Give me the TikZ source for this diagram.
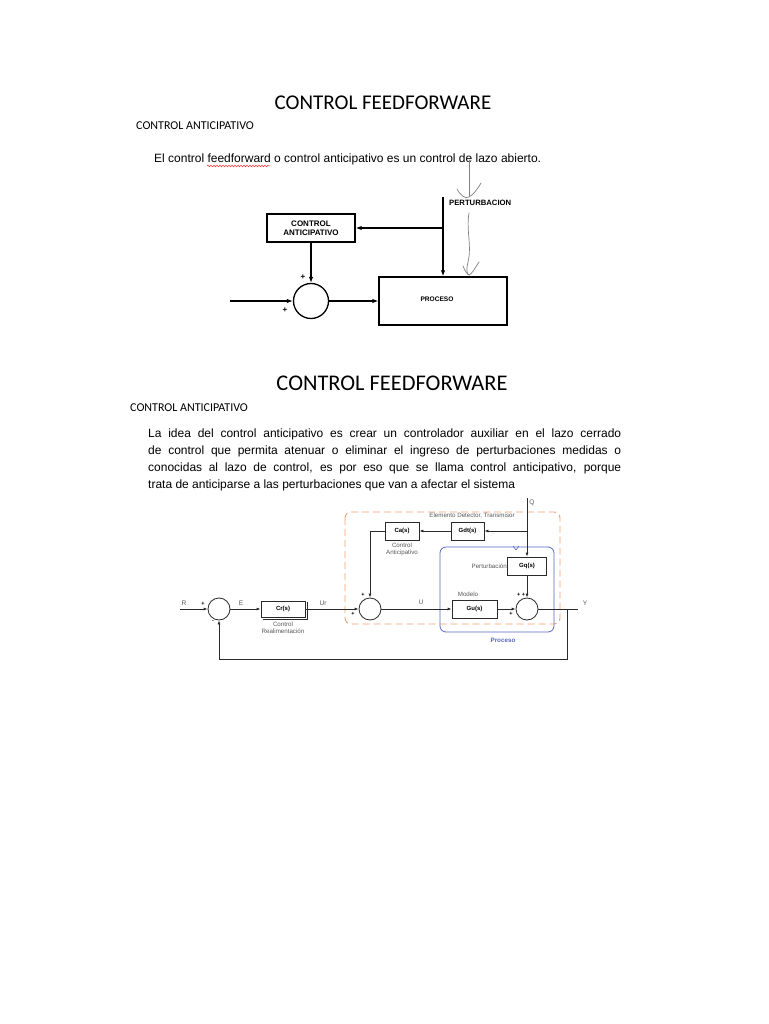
\documentclass[tikz,border=0pt]{standalone}
\usepackage{fontspec}
\setmainfont{Liberation Sans}
\newfontfamily\calfont{Carlito}
\usetikzlibrary{arrows.meta,calc,decorations.pathmorphing}
\definecolor{orng}{HTML}{F2A36E}
\definecolor{blu}{HTML}{5A68C4}
\definecolor{dk}{HTML}{2A2A2A}
\tikzset{
  blk1/.style={draw, line width=1.3pt, font=\bfseries\fontsize{8}{9.5}\selectfont, align=center, inner sep=0pt},
  arr1/.style={-{Latex[length=6pt,width=4.5pt]}, line width=1.3pt},
  ln1/.style={line width=1.3pt},
  blk2/.style={draw=dk, line width=0.8pt, font=\bfseries\fontsize{6}{7}\selectfont, inner sep=0pt},
  arr2/.style={-{Latex[length=4pt,width=3pt]}, line width=0.8pt, draw=dk},
  ln2/.style={line width=0.8pt, draw=dk},
  sum2/.style={circle, draw=dk, line width=0.8pt, minimum size=22pt, inner sep=0pt},
  lbl2/.style={font=\fontsize{6.2}{7.2}\selectfont, text=black!65, inner sep=0pt, align=center},
  sgn/.style={font=\bfseries\fontsize{5.5}{6}\selectfont, inner sep=0pt},
  hand/.style={draw=black!50, line width=0.7pt, line cap=round},
  title/.style={font=\calfont\fontsize{21}{24}\selectfont, inner sep=0pt},
  sub/.style={font=\calfont\fontsize{12}{14}\selectfont, inner sep=0pt, anchor=west},
  body/.style={font=\fontsize{12}{14}\selectfont, inner sep=0pt, anchor=west}
}
\begin{document}
\begin{tikzpicture}[x=1pt,y=-1pt]
\useasboundingbox[fill=white] (0,0) rectangle (768,1024);

% ---------- Part 1 ----------
\node[title] (t1) at (383,103) {CONTROL FEEDFORWARE};
\node[sub] (s1t) at (136,126) {CONTROL ANTICIPATIVO};
\node[body] (p1) at (154,159) {El control feedforward o control anticipativo es un control de lazo abierto.};
\draw[red!80, line width=0.5pt, decorate, decoration={snake, amplitude=0.8pt, segment length=3pt}] (207,166) -- (270,166);

\node[blk1, minimum width=88pt, minimum height=28pt] (ca1) at (311,228) {CONTROL\\ANTICIPATIVO};
\node[circle, draw, line width=1.3pt, minimum size=35pt, inner sep=0pt] (sm1) at (311,301) {};
\node[blk1, minimum width=128pt, minimum height=48pt] (pr1) at (443,301) {};
\node[font=\bfseries\fontsize{6.6}{8}\selectfont, inner sep=0pt] (pr1t) at (437,299) {PROCESO};
\coordinate (pt1) at (443,197);
\coordinate (br1) at (443,228);
\coordinate (in1) at (230,301);
\node[font=\bfseries\fontsize{7.7}{9}\selectfont, inner sep=0pt, anchor=west] (pertl) at (449,203) {PERTURBACION};
\draw[arr1] (pt1) -- (pr1.north);
\draw[arr1] (br1) -- (ca1.east);
\draw[arr1] (ca1.south) -- (sm1.north);
\draw[arr1] (in1) -- (sm1.west);
\draw[arr1] (sm1.east) -- (pr1.west);
\node[font=\bfseries\fontsize{8}{9}\selectfont, inner sep=0pt] (pl1) at (303,277) {+};
\node[font=\bfseries\fontsize{8}{9}\selectfont, inner sep=0pt] (pl2) at (285,310) {+};

% handwritten marks
\draw[hand] (469,160) -- (469,196);
\draw[hand] (457,189) .. controls (461,196) and (465,199) .. (469,197) .. controls (473,195) and (477,190) .. (481,183);
\draw[hand] (469,213) .. controls (466,230) and (472,246) .. (468,262) .. controls (466,270) and (467,275) .. (469,275) .. controls (472,274) and (475,268) .. (479,262);
\draw[hand] (463,266) .. controls (465,271) and (467,274) .. (469,275);

% ---------- Part 2 ----------
\node[title, font=\calfont\fontsize{22.4}{26}\selectfont] (t2) at (392,383) {CONTROL FEEDFORWARE};
\node[sub] (s2t) at (130,408) {CONTROL ANTICIPATIVO};
\node[body] (l1) at (148,434) {\makebox[473pt][s]{La idea del control anticipativo es crear un controlador auxiliar en el lazo cerrado}};
\node[body] (l2) at (148,451) {\makebox[473pt][s]{de control que permita atenuar o eliminar el ingreso de perturbaciones medidas o}};
\node[body] (l3) at (148,468) {\makebox[473pt][s]{conocidas al lazo de control, es por eso que se llama control anticipativo, porque}};
\node[body] (l4) at (148,485) {trata de anticiparse a las perturbaciones que van a afectar el sistema};

% frames
\draw[orng, line width=0.9pt, dash pattern=on 7pt off 4pt, rounded corners=6pt] (345,512) rectangle (560,624);
\draw[blu, line width=0.8pt, rounded corners=6pt] (440,547) rectangle (554,632);
\draw[blu, line width=0.6pt] (513,546) -- (516,550) -- (519,546);
\node[font=\bfseries\fontsize{6.3}{7}\selectfont, text=blu, inner sep=0pt] (proc) at (503,640) {Proceso};
\node[lbl2] (elem) at (472,516) {Elemento Detector, Transmisor};

% blocks
\node[sum2] (s0) at (219,609) {};
\node[blk2, minimum width=44pt, minimum height=16pt] (cr) at (283,609) {Cr(s)};
\draw[ln2] ($(cr.south west)+(2,1.5)$) -- ($(cr.south east)+(2,1.5)$) -- ($(cr.north east)+(2,1)$);
\node[sum2] (s1) at (370,609) {};
\node[blk2, minimum width=45pt, minimum height=18pt] (gu) at (474.5,609) {Gu(s)};
\node[sum2] (s2) at (527,609) {};
\node[blk2, minimum width=39pt, minimum height=18pt] (gq) at (527,566) {Gq(s)};
\node[blk2, minimum width=33pt, minimum height=18pt] (gdt) at (467.5,531) {Gdt(s)};
\node[blk2, minimum width=34pt, minimum height=18pt] (cab) at (402,531) {Ca(s)};

\node[lbl2] (crl) at (283,628) {Control\\Realimentación};
\node[lbl2] (cal) at (402,549) {Control\\Anticipativo};
\node[lbl2, anchor=east] (pertb) at (507,566) {Perturbación};
\node[lbl2] (mod) at (468,594) {Modelo};

% signal labels
\node[lbl2, font=\fontsize{6.6}{7.5}\selectfont] (lR) at (184,603) {R};
\node[lbl2, font=\fontsize{6.6}{7.5}\selectfont] (lE) at (241,603) {E};
\node[lbl2, font=\fontsize{6.6}{7.5}\selectfont] (lUr) at (323,603) {Ur};
\node[lbl2, font=\fontsize{6.6}{7.5}\selectfont] (lU) at (421,602) {U};
\node[lbl2, font=\fontsize{6.6}{7.5}\selectfont] (lY) at (585,603) {Y};
\node[lbl2, font=\fontsize{6.6}{7.5}\selectfont] (lQ) at (532,503) {Q};

% signs
\node[sgn] (g1) at (203,604) {+};
\node[sgn] (g2) at (213,622) {-};
\node[sgn] (g3) at (363,595) {+};
\node[sgn] (g4) at (353,614) {+};
\node[sgn] (g5) at (521,595) {+ +};
\node[sgn] (g6) at (511,614) {+};

% connections
\coordinate (rin) at (180,609);
\coordinate (q) at (527,498);
\coordinate (qb) at (527,531);
\coordinate (yout) at (578,609);
\coordinate (tap) at (567,609);
\coordinate (tapd) at (567,659);
\draw[arr2] (rin) -- (s0.west);
\draw[arr2] (s0.east) -- (cr.west);
\draw[arr2] (cr.east) -- (s1.west);
\draw[arr2] (s1.east) -- (gu.west);
\draw[arr2] (gu.east) -- (s2.west);
\draw[ln2] (s2.east) -- (yout);
\draw[arr2] (tap) -- (tapd) -| (s0.south);
\draw[arr2] (q) -- (gq.north);
\draw[arr2] (qb) -- (gdt.east);
\draw[arr2] (gdt.west) -- (cab.east);
\draw[arr2] (cab.west) -| (s1.north);
\draw[arr2] (gq.south) -- (s2.north);
\end{tikzpicture}
\end{document}
